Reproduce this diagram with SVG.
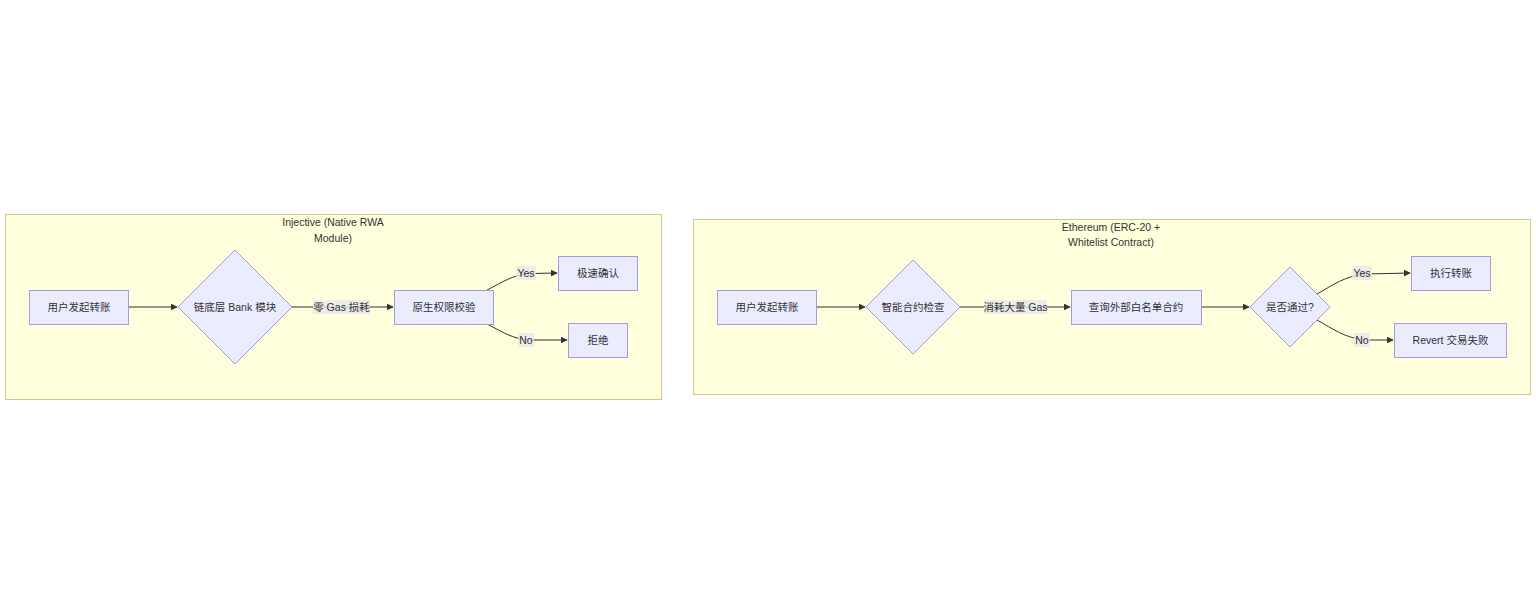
<svg xmlns="http://www.w3.org/2000/svg" width="1536" height="614" viewBox="0 0 1536 614">
<defs>
<style>
text{font-family:"Liberation Sans","Noto Sans CJK SC",sans-serif;font-size:10.5px;fill:#333;text-anchor:middle;dominant-baseline:central}
.cluster{fill:#ffffde;stroke:#cccc88;stroke-width:1}
.node{fill:#ececff;stroke:#a898dc;stroke-width:1}
.edge{fill:none;stroke:#333;stroke-width:1;marker-end:url(#arr)}
.lbl{fill:#e8e8e8;fill-opacity:0.8}
</style>
<marker id="arr" viewBox="0 0 10 10" refX="9" refY="5" markerWidth="7" markerHeight="7" orient="auto" markerUnits="userSpaceOnUse">
<path d="M0,0 L10,5 L0,10 z" fill="#333"/>
</marker>
</defs>
<rect width="1536" height="614" fill="#ffffff"/>
<g id="cluster-injective">
<rect class="cluster" x="5.5" y="214.5" width="656" height="185"/>
<text x="333" y="222">Injective (Native RWA</text>
<text x="333" y="238">Module)</text>
</g>
<g id="cluster-ethereum">
<rect class="cluster" x="693.5" y="219.5" width="837" height="175"/>
<text x="1111" y="227">Ethereum (ERC-20 +</text>
<text x="1111" y="242">Whitelist Contract)</text>
</g>
<g id="connectors">
<path class="edge" d="M129,307 L177,307"/>
<path class="edge" d="M292,307 L393,307"/>
<path class="edge" d="M487,290 C503,282 512,275 530,273.5 L557,273"/>
<path class="edge" d="M487,324 C503,332 512,339 530,340 L567,340"/>
<path class="edge" d="M817,307 L865,307"/>
<path class="edge" d="M960,307 L1070,307"/>
<path class="edge" d="M1201,307 L1249,307"/>
<path class="edge" d="M1317,294 C1333,285 1345,276 1365,274 L1410,273"/>
<path class="edge" d="M1317,320 C1333,329 1345,338 1365,340 L1393,340"/>
<rect class="lbl" x="313" y="300" width="57" height="14"/>
<text x="341.5" y="307">零 Gas 损耗</text>
<rect class="lbl" x="516" y="266" width="20" height="14"/>
<text x="526" y="273">Yes</text>
<rect class="lbl" x="518" y="333" width="16" height="14"/>
<text x="526" y="340">No</text>
<rect class="lbl" x="984" y="300" width="63" height="14"/>
<text x="1015.5" y="307">消耗大量 Gas</text>
<rect class="lbl" x="1352" y="266" width="20" height="14"/>
<text x="1362" y="273">Yes</text>
<rect class="lbl" x="1354" y="333" width="16" height="14"/>
<text x="1362" y="340">No</text>
</g>
<g id="node-inj-start">
<rect class="node" x="29.5" y="290.5" width="99" height="34"/>
<text x="79" y="307">用户发起转账</text>
</g>
<g id="node-inj-bank">
<polygon class="node" points="235,250 292,307 235,364 178,307"/>
<text x="235" y="307">链底层 Bank 模块</text>
</g>
<g id="node-inj-check">
<rect class="node" x="394.5" y="290.5" width="99" height="34"/>
<text x="444" y="307">原生权限校验</text>
</g>
<g id="node-inj-confirm">
<rect class="node" x="558.5" y="256.5" width="79" height="34"/>
<text x="598" y="273">极速确认</text>
</g>
<g id="node-inj-reject">
<rect class="node" x="568.5" y="323.5" width="59" height="34"/>
<text x="598" y="340">拒绝</text>
</g>
<g id="node-eth-start">
<rect class="node" x="717.5" y="290.5" width="99" height="34"/>
<text x="767" y="307">用户发起转账</text>
</g>
<g id="node-eth-contract">
<polygon class="node" points="913,260 960,307 913,354 866,307"/>
<text x="913" y="307">智能合约检查</text>
</g>
<g id="node-eth-query">
<rect class="node" x="1071.5" y="290.5" width="130" height="34"/>
<text x="1136" y="307">查询外部白名单合约</text>
</g>
<g id="node-eth-pass">
<polygon class="node" points="1290,267 1330,307 1290,347 1250,307"/>
<text x="1290" y="307">是否通过?</text>
</g>
<g id="node-eth-exec">
<rect class="node" x="1411.5" y="256.5" width="79" height="34"/>
<text x="1451" y="273">执行转账</text>
</g>
<g id="node-eth-revert">
<rect class="node" x="1394.5" y="323.5" width="112" height="34"/>
<text x="1450.5" y="340">Revert 交易失败</text>
</g>
</svg>
